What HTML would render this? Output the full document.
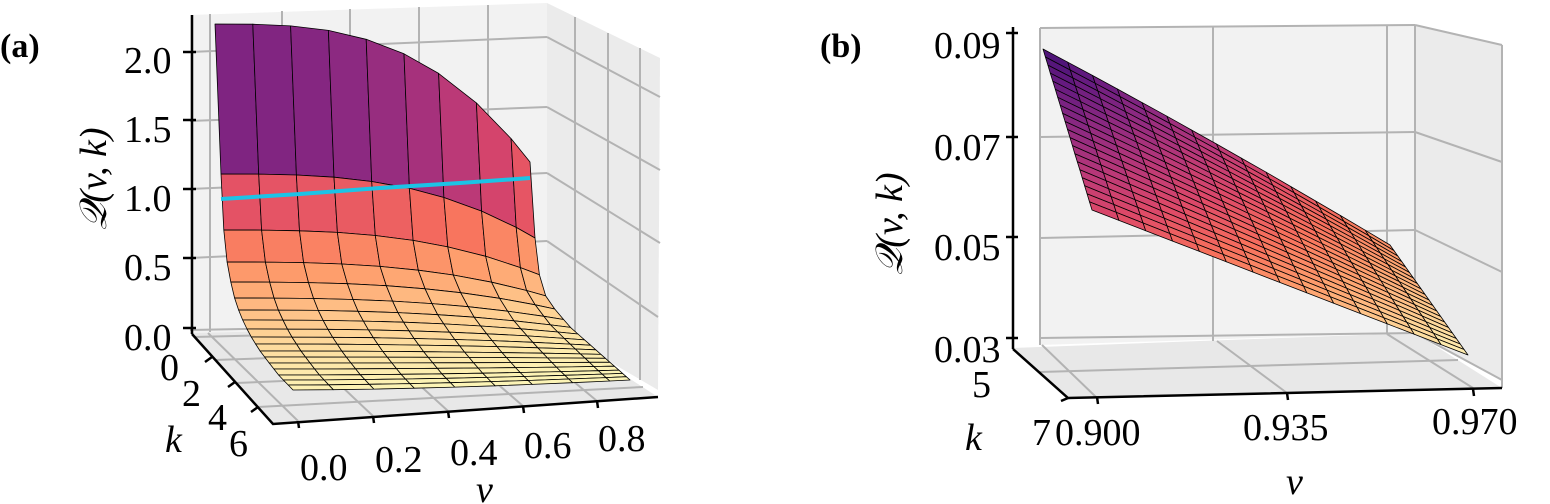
<!DOCTYPE html>
<html><head><meta charset="utf-8">
<style>
html,body{margin:0;padding:0;background:#fff;}
svg{display:block;}
text{font-family:"Liberation Serif",serif;fill:#000;}
</style></head>
<body>
<svg id="s" width="1550" height="504" viewBox="0 0 1550 504" xmlns="http://www.w3.org/2000/svg">
<polygon points="190,15 547,3 547,325 190,333" fill="#f2f2f2"/>
<polygon points="547,3 660,58 658,390 547,325" fill="#ebebeb"/>
<polygon points="190,333 547,325 658,397 272,423" fill="#e8e8e8"/>
<g stroke="#b3b3b3" stroke-width="2" fill="none">
<line x1="210" y1="14" x2="210" y2="332"/>
<line x1="282" y1="11" x2="282" y2="330"/>
<line x1="350" y1="9" x2="350" y2="329"/>
<line x1="419" y1="7" x2="419" y2="328"/>
<line x1="488" y1="5" x2="488" y2="326"/>
<line x1="190" y1="52" x2="547" y2="37"/>
<line x1="190" y1="121" x2="547" y2="107"/>
<line x1="190" y1="189" x2="547" y2="173"/>
<line x1="190" y1="258" x2="547" y2="241"/>
<line x1="190" y1="330" x2="547" y2="323"/>
<line x1="547" y1="37" x2="660" y2="97"/>
<line x1="547" y1="107" x2="660" y2="170"/>
<line x1="547" y1="173" x2="660" y2="243"/>
<line x1="547" y1="241" x2="658" y2="317"/>
<line x1="575" y1="17" x2="575" y2="341"/>
<line x1="608" y1="33" x2="608" y2="361"/>
<line x1="640" y1="48" x2="640" y2="380"/>
<line x1="298" y1="421" x2="208" y2="333"/>
<line x1="373" y1="416" x2="283" y2="331"/>
<line x1="448" y1="411" x2="358" y2="329"/>
<line x1="523" y1="406" x2="433" y2="328"/>
<line x1="597" y1="401" x2="507" y2="326"/>
<line x1="194" y1="337" x2="552" y2="328"/>
<line x1="215" y1="360" x2="582" y2="347"/>
<line x1="236" y1="383" x2="612" y2="367"/>
<line x1="258" y1="407" x2="643" y2="387"/>
</g>
<polygon points="1040,28 1415,25 1415,333 1040,345" fill="#f2f2f2"/>
<polygon points="1415,25 1502,45 1502,380 1415,333" fill="#ebebeb"/>
<polygon points="1013,348 1415,333 1502,388 1068,398" fill="#e8e8e8"/>
<g stroke="#b3b3b3" stroke-width="2" fill="none">
<line x1="1040" y1="28" x2="1040" y2="345"/>
<line x1="1213" y1="27" x2="1213" y2="341"/>
<line x1="1387" y1="25" x2="1387" y2="334"/>
<line x1="1040" y1="28" x2="1415" y2="25"/>
<line x1="1040" y1="137" x2="1415" y2="132"/>
<line x1="1040" y1="238" x2="1415" y2="230"/>
<line x1="1040" y1="338" x2="1415" y2="333"/>
<line x1="1415" y1="25" x2="1502" y2="45"/>
<line x1="1415" y1="132" x2="1502" y2="162"/>
<line x1="1415" y1="230" x2="1502" y2="272"/>
<line x1="1415" y1="333" x2="1502" y2="380"/>
<line x1="1502" y1="45" x2="1502" y2="388"/>
<line x1="1415" y1="25" x2="1415" y2="333"/>
<line x1="1097" y1="398" x2="1042" y2="345"/>
<line x1="1287" y1="393" x2="1217" y2="341"/>
<line x1="1473" y1="388" x2="1387" y2="334"/>
<line x1="1040" y1="372" x2="1458" y2="360"/>
</g>
<g id="surfA"></g>
<g id="surfB"></g>
<polyline points="221,199 300,194 380,188 460,183 530,178" fill="none" stroke="#1cc3e6" stroke-width="4"/>
<g stroke="#000" stroke-width="2.5" fill="none">
<line x1="192" y1="15" x2="192" y2="334"/>
<line x1="183" y1="52" x2="196" y2="52"/>
<line x1="183" y1="120" x2="196" y2="120"/>
<line x1="183" y1="189" x2="196" y2="189"/>
<line x1="183" y1="258" x2="196" y2="258"/>
<line x1="183" y1="328" x2="196" y2="328"/>
<polyline points="192,334 273,424 658,397"/>
<line x1="212" y1="357" x2="205" y2="362"/>
<line x1="235" y1="382" x2="228" y2="387"/>
<line x1="258" y1="407" x2="251" y2="412"/>
<line x1="298" y1="421" x2="299" y2="428"/>
<line x1="373" y1="416" x2="374" y2="423"/>
<line x1="448" y1="411" x2="449" y2="418"/>
<line x1="523" y1="406" x2="524" y2="413"/>
<line x1="597" y1="401" x2="598" y2="408"/>
</g>
<g stroke="#000" stroke-width="2.5" fill="none">
<line x1="1013" y1="27" x2="1013" y2="349"/>
<line x1="1006" y1="33" x2="1018" y2="33"/>
<line x1="1006" y1="137" x2="1018" y2="137"/>
<line x1="1006" y1="237" x2="1018" y2="237"/>
<line x1="1006" y1="338" x2="1018" y2="338"/>
<polyline points="1013,349 1068,398 1502,388"/>
<line x1="1097" y1="397" x2="1098" y2="404"/>
<line x1="1287" y1="393" x2="1288" y2="400"/>
<line x1="1473" y1="389" x2="1474" y2="396"/>
<line x1="1068" y1="398" x2="1061" y2="401"/>
</g>
<text x="0" y="57" font-size="34" font-weight="bold">(a)</text>
<g font-size="38">
<text x="124" y="73">2.0</text>
<text x="124" y="142">1.5</text>
<text x="124" y="211">1.0</text>
<text x="124" y="280">0.5</text>
<text x="124" y="350">0.0</text>
<text x="160" y="380">0</text>
<text x="182" y="406">2</text>
<text x="208" y="430">4</text>
<text x="229" y="456">6</text>
<text x="300" y="480">0.0</text>
<text x="375" y="472">0.2</text>
<text x="450" y="465">0.4</text>
<text x="524" y="458">0.6</text>
<text x="598" y="451">0.8</text>
<text x="165" y="452" font-style="italic">k</text>
<text x="476" y="502" font-style="italic">v</text>
<text transform="translate(106,230) rotate(-90)" font-style="italic">𝒬(v, k)</text>
</g>
<text x="820" y="57" font-size="34" font-weight="bold">(b)</text>
<g font-size="38">
<text x="934" y="58">0.09</text>
<text x="934" y="160">0.07</text>
<text x="934" y="260">0.05</text>
<text x="934" y="362">0.03</text>
<text x="972" y="397">5</text>
<text x="1032" y="445">7</text>
<text x="1055" y="445">0.900</text>
<text x="1243" y="440">0.935</text>
<text x="1432" y="434">0.970</text>
<text x="965" y="450" font-style="italic">k</text>
<text x="1286" y="494" font-style="italic">v</text>
<text transform="translate(902,275) rotate(-90)" font-style="italic">𝒬(v, k)</text>
</g>
</svg>
<script>
(function(){
var stops=[[0,0,0,4],[.1,20,14,54],[.2,59,15,112],[.3,100,26,128],[.4,140,41,129],[.5,183,55,121],[.6,222,73,104],[.7,247,112,92],[.8,254,159,109],[.9,254,207,146],[1,252,253,191]];
function magma(t){t=Math.max(0,Math.min(1,t));for(var i=1;i<stops.length;i++){if(t<=stops[i][0]){var a=stops[i-1],b=stops[i],f=(t-a[0])/(b[0]-a[0]);return 'rgb('+Math.round(a[1]+f*(b[1]-a[1]))+','+Math.round(a[2]+f*(b[2]-a[2]))+','+Math.round(a[3]+f*(b[3]-a[3]))+')';}}return 'rgb(252,253,191)';}
var NS='http://www.w3.org/2000/svg';
function poly(g,pts,fill){var p=document.createElementNS(NS,'polygon');p.setAttribute('points',pts.map(function(q){return q[0].toFixed(1)+','+q[1].toFixed(1)}).join(' '));p.setAttribute('fill',fill);p.setAttribute('stroke','#000');p.setAttribute('stroke-width','0.8');p.setAttribute('stroke-linejoin','round');g.appendChild(p);}
var ly=[24,174,230,262,282,298,310,320,329,337,344,351,357,363,369,375,380,385,390];
var N=ly.length-1;
var L=[],R=[];
var rc=[[238,535],[267,537],[300,547],[327,570],[380,630]];
function rx(y){for(var i=1;i<rc.length;i++){if(y<=rc[i][0]){var f=(y-rc[i-1][0])/(rc[i][0]-rc[i-1][0]);return rc[i-1][1]+f*(rc[i][1]-rc[i-1][1]);}}return 630;}
for(var j=0;j<=N;j++){
 if(j==0){L.push([215,24]);R.push([530,162]);continue;}
 var lx=221+72*Math.pow((j-1)/(N-1),1.15);
 L.push([lx,ly[j]]);
 var ry=238+(380-238)*(ly[j]-174)/(390-174);
 R.push([rx(ry),ry]);
}
var us=[0,.12,.24,.36,.48,.6,.71,.83,.94,1];
var P=[],Q=[];
for(var j=0;j<=N;j++){P.push([]);Q.push([]);
 var p=3-1.3*j/N;
 var fl=338+(392-338)*j/N;
 for(var i=0;i<us.length;i++){var u=us[i];
  var x=L[j][0]+(R[j][0]-L[j][0])*u;
  var y=L[j][1]+(R[j][1]-L[j][1])*Math.pow(u,p);
  P[j].push([x,y]);
  Q[j].push((fl-12*u-y)/139);
 }}
var gA=document.getElementById('surfA');
for(var j=0;j<N;j++)for(var i=0;i<us.length-1;i++){
 var q=(Q[j][i]+Q[j][i+1]+Q[j+1][i]+Q[j+1][i+1])/4;
 poly(gA,[P[j][i],P[j][i+1],P[j+1][i+1],P[j+1][i]],magma(0.98-0.355*q));
}
var TL=[1043,49],TR=[1390,245],BR=[1468,355],BL=[1092,210];
var NR=20,NC=14,cTL=.22,cTR=.78,cBR=.98,cBL=.58;
function bl(s,t,a,b,c,d){return a*(1-s)*(1-t)+b*s*(1-t)+c*s*t+d*(1-s)*t;}
function pt(s,t){var bul=12*s*(1-s)*(1-t);return [bl(s,t,TL[0],TR[0],BR[0],BL[0]),bl(s,t,TL[1],TR[1],BR[1],BL[1])-bul];}
var gB=document.getElementById('surfB');
for(var r=0;r<NR;r++)for(var c=0;c<NC;c++){
 var s0=c/NC,s1=(c+1)/NC,t0=r/NR,t1=(r+1)/NR;
 var cv=bl((s0+s1)/2,(t0+t1)/2,cTL,cTR,cBR,cBL);
 poly(gB,[pt(s0,t0),pt(s1,t0),pt(s1,t1),pt(s0,t1)],magma(cv));
}
})();
</script>
</body></html>
